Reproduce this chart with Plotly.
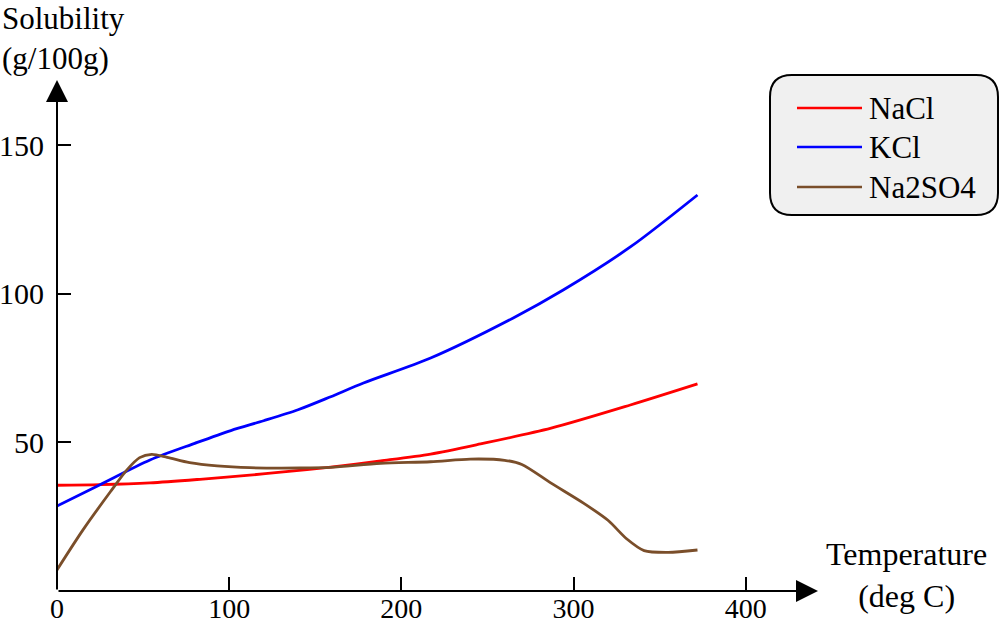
import plotly.graph_objects as go
import re

# ---- data ----
series_names = ["NaCl", "KCl", "Na2SO4"]
series_colors = ["#ff0000", "#0000ff", "#7a4e2a"]

nacl_t = [0, 25, 54, 83, 112, 130, 159, 188, 217, 246, 287, 333, 372]
nacl_v = [35.6, 35.8, 36.4, 37.6, 39.0, 40.0, 41.7, 43.8, 46.1, 49.5, 54.8, 62.6, 69.7]

kcl_t = [0, 25, 54, 80, 101, 120, 140, 159, 178, 217, 265, 294, 333, 372]
kcl_v = [28.6, 35.8, 44.1, 49.7, 54.0, 57.3, 61.0, 65.4, 70.0, 78.4, 91.9, 101.3, 115.8, 133.3]

na2so4_t = [0, 15, 31, 40.5, 48, 55, 64, 77, 93, 112, 141, 159, 188, 217, 240, 260, 270, 287, 306, 320, 331, 341, 355, 372]
na2so4_v = [7.1, 20.5, 33.4, 40.7, 44.9, 46.0, 45.0, 43.2, 42.1, 41.5, 41.4, 41.6, 43.0, 43.5, 44.4, 44.0, 42.6, 36.3, 29.5, 23.8, 17.5, 13.6, 13.0, 13.8]

x_ticks = [0, 100, 200, 300, 400]
y_ticks = [50, 100, 150]
x_max, y_max = 442, 172

# ---- layout geometry (pixels) ----
W, H = 1000, 626
L, R, T, B = 57, 182, 80, 35
pw, ph = W - L - R, H - T - B

def px(x):  # pixel -> paper x
    return (x - L) / pw

def py(y):  # pixel -> paper y
    return (H - B - y) / ph

FONT = "Liberation Serif"

fig = go.Figure()
for name, color, t, v in zip(series_names, series_colors,
                             [nacl_t, kcl_t, na2so4_t], [nacl_v, kcl_v, na2so4_v]):
    fig.add_trace(go.Scatter(x=t, y=v, mode="lines", name=name,
                             line=dict(color=color, width=2.8, shape="spline", smoothing=0.8),
                             showlegend=False))

shapes = []
annotations = []

# axis arrows
annotations.append(dict(x=x_max, y=0, ax=0, ay=0, xref="x", yref="y", axref="x", ayref="y",
                        text="", showarrow=True, arrowhead=2, arrowsize=2.2, arrowwidth=2,
                        arrowcolor="black"))
annotations.append(dict(x=0, y=y_max, ax=0, ay=0, xref="x", yref="y", axref="x", ayref="y",
                        text="", showarrow=True, arrowhead=2, arrowsize=2.2, arrowwidth=2,
                        arrowcolor="black"))

# axis titles
annotations.append(dict(x=px(0), y=py(-1), xref="paper", yref="paper", xanchor="left",
                        yanchor="top", align="left", showarrow=False,
                        text="Solubility<br>(g/100g)", font=dict(family=FONT, size=31, color="black")))
annotations.append(dict(x=px(906), y=py(534), xref="paper", yref="paper", xanchor="center",
                        yanchor="top", align="center", showarrow=False,
                        text="Temperature<br>(deg C)", font=dict(family=FONT, size=32, color="black")))

# legend box (rounded)
x0, x1, y0, y1, r = 770, 998, 75, 215, 22
path = (f"M {x0 + r},{y0} L {x1 - r},{y0} Q {x1},{y0} {x1},{y0 + r} "
        f"L {x1},{y1 - r} Q {x1},{y1} {x1 - r},{y1} L {x0 + r},{y1} "
        f"Q {x0},{y1} {x0},{y1 - r} L {x0},{y0 + r} Q {x0},{y0} {x0 + r},{y0} Z")

def conv(m):
    a, b = float(m.group(1)), float(m.group(2))
    return f"{px(a):.5f},{py(b):.5f}"

path_paper = re.sub(r"([\d.]+),([\d.]+)", conv, path)
shapes.append(dict(type="path", path=path_paper, xref="paper", yref="paper",
                   fillcolor="#f0f0f0", line=dict(color="black", width=2), layer="below"))

rows = [108, 147, 187]
for name, color, yy in zip(series_names, series_colors, rows):
    shapes.append(dict(type="line", xref="paper", yref="paper", x0=px(797), x1=px(862),
                       y0=py(yy), y1=py(yy), line=dict(color=color, width=2.5)))
    annotations.append(dict(x=px(867), y=py(yy), xref="paper", yref="paper", xanchor="left",
                            yanchor="middle", showarrow=False, text=name,
                            font=dict(family=FONT, size=31, color="black")))

fig.update_layout(
    width=W, height=H,
    margin=dict(l=L, r=R, t=T, b=B, autoexpand=False),
    paper_bgcolor="white", plot_bgcolor="white",
    shapes=shapes, annotations=annotations,
    xaxis=dict(range=[0, x_max], tickvals=x_ticks, ticks="inside", ticklen=14, tickwidth=2,
               tickcolor="black", showgrid=False, zeroline=False, showline=False,
               tickfont=dict(family=FONT, size=28, color="black"), ticklabelstandoff=-2),
    yaxis=dict(range=[0, y_max], tickvals=y_ticks, ticks="inside", ticklen=14, tickwidth=2,
               tickcolor="black", showgrid=False, zeroline=False, showline=False,
               tickfont=dict(family=FONT, size=30, color="black"), ticklabelstandoff=12),
)

fig.write_html("out.html")
